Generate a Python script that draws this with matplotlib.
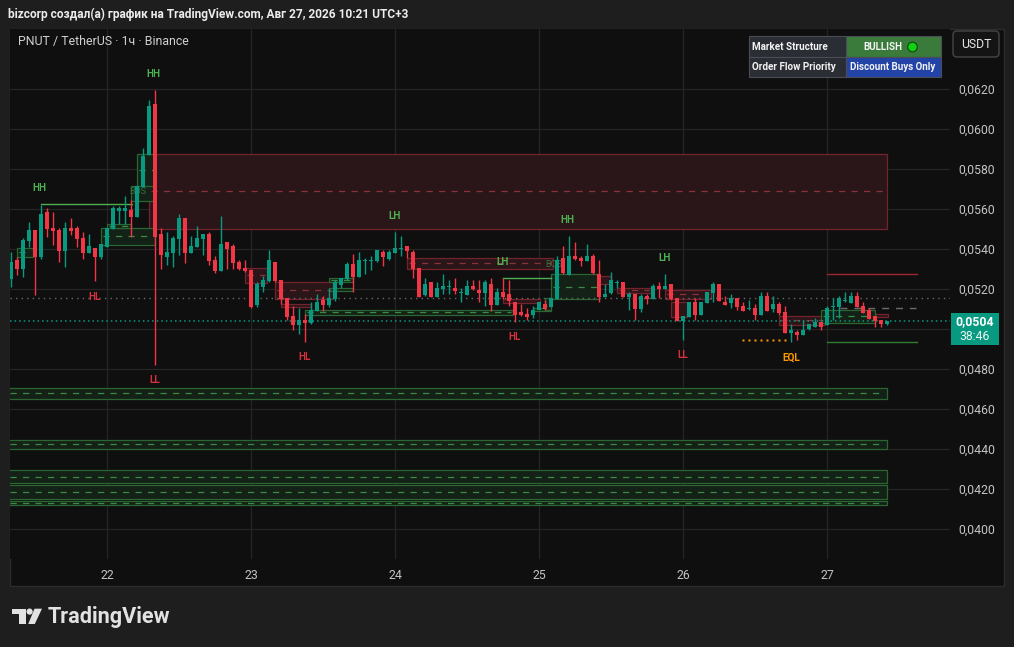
import numpy as np
import matplotlib
matplotlib.use("Agg")
import matplotlib.pyplot as plt
from matplotlib.patches import Rectangle, Polygon, Circle, FancyBboxPatch

# ---------------- data ----------------
# hourly candles, hour offset from 22 Aug 00:00 (UTC+3)
hours = np.arange(-16, 131)

opens = [0.05252, 0.05345, 0.05302, 0.05442, 0.05495, 0.05362, 0.05585, 0.05505, 0.05495, 0.05392,
         0.05505, 0.05505, 0.05455, 0.05382, 0.05405, 0.05362, 0.05412, 0.05502, 0.05592, 0.05592,
         0.05595, 0.05562, 0.05712, 0.05872, 0.06125, 0.05475, 0.05362, 0.05382, 0.05452, 0.05555,
         0.05382, 0.05412, 0.05452, 0.05475, 0.05345, 0.05292, 0.05435, 0.05415, 0.05335, 0.05305,
         0.05295, 0.05122, 0.05212, 0.05238, 0.05335, 0.05245, 0.05155, 0.05065, 0.05022, 0.05045,
         0.05032, 0.05092, 0.05145, 0.05118, 0.05152, 0.05222, 0.05252, 0.05325, 0.05262, 0.05342,
         0.05342, 0.05342, 0.05385, 0.05352, 0.05382, 0.05402, 0.05415, 0.05385, 0.05305, 0.05168,
         0.05235, 0.05162, 0.05202, 0.05212, 0.05205, 0.05182, 0.05172, 0.05215, 0.05195, 0.05182,
         0.05225, 0.05122, 0.05185, 0.05175, 0.05135, 0.05085, 0.05075, 0.05072, 0.05095, 0.05125,
         0.05112, 0.05152, 0.05355, 0.05272, 0.05365, 0.05355, 0.05342, 0.05365, 0.05275, 0.05162,
         0.05182, 0.05232, 0.05235, 0.05162, 0.05175, 0.05102, 0.05165, 0.05152, 0.05215, 0.05202,
         0.05225, 0.05155, 0.05042, 0.05062, 0.05135, 0.05072, 0.05132, 0.05182, 0.05225, 0.05135,
         0.05132, 0.05155, 0.05115, 0.05102, 0.05105, 0.05072, 0.05165, 0.05102, 0.05125, 0.05085,
         0.04982, 0.04985, 0.04972, 0.05002, 0.05012, 0.05035, 0.05022, 0.05112, 0.05112, 0.05142,
         0.05132, 0.05165, 0.05115, 0.05095, 0.05065, 0.05045, 0.05025]
highs = [0.05385, 0.05362, 0.05455, 0.05535, 0.05495, 0.05622, 0.05605, 0.05585, 0.05505, 0.05535,
         0.05555, 0.05515, 0.05485, 0.05475, 0.05405, 0.05425, 0.05505, 0.05615, 0.05615, 0.05665,
         0.05645, 0.05715, 0.05905, 0.06145, 0.06195, 0.05505, 0.05485, 0.05465, 0.05575, 0.05555,
         0.05465, 0.05515, 0.05475, 0.05485, 0.05365, 0.05565, 0.05435, 0.05425, 0.05345, 0.05345,
         0.05302, 0.05235, 0.05265, 0.05395, 0.05335, 0.05245, 0.05155, 0.05115, 0.05105, 0.05075,
         0.05135, 0.05175, 0.05165, 0.05205, 0.05245, 0.05255, 0.05335, 0.05375, 0.05385, 0.05355,
         0.05365, 0.05395, 0.05395, 0.05395, 0.05485, 0.05465, 0.05415, 0.05395, 0.05305, 0.05255,
         0.05235, 0.05235, 0.05275, 0.05245, 0.05255, 0.05205, 0.05245, 0.05245, 0.05245, 0.05245,
         0.05255, 0.05205, 0.05255, 0.05245, 0.05135, 0.05125, 0.05105, 0.05115, 0.05135, 0.05145,
         0.05155, 0.05365, 0.05415, 0.05465, 0.05435, 0.05365, 0.05425, 0.05375, 0.05345, 0.05225,
         0.05285, 0.05245, 0.05235, 0.05185, 0.05175, 0.05175, 0.05175, 0.05225, 0.05235, 0.05275,
         0.05225, 0.05155, 0.05065, 0.05135, 0.05155, 0.05135, 0.05185, 0.05235, 0.05225, 0.05165,
         0.05175, 0.05155, 0.05135, 0.05145, 0.05125, 0.05185, 0.05185, 0.05165, 0.05135, 0.05115,
         0.05025, 0.04995, 0.05045, 0.05025, 0.05055, 0.05035, 0.05115, 0.05155, 0.05165, 0.05185,
         0.05185, 0.05185, 0.05135, 0.05105, 0.05065, 0.05045, 0.05038]
lows = [0.05208, 0.05268, 0.05258, 0.05408, 0.05168, 0.05348, 0.05458, 0.05418, 0.05335, 0.05308,
        0.05468, 0.05408, 0.05348, 0.05382, 0.05238, 0.05348, 0.05408, 0.05502, 0.05525, 0.05525,
        0.05458, 0.05558, 0.05712, 0.05872, 0.04818, 0.05298, 0.05318, 0.05308, 0.05368, 0.05328,
        0.05382, 0.05408, 0.05368, 0.05318, 0.05278, 0.05292, 0.05298, 0.05298, 0.05295, 0.05285,
        0.05105, 0.05108, 0.05185, 0.05235, 0.05235, 0.05125, 0.05045, 0.04995, 0.04975, 0.04935,
        0.05025, 0.05088, 0.05088, 0.05112, 0.05138, 0.05205, 0.05245, 0.05185, 0.05258, 0.05275,
        0.05295, 0.05335, 0.05315, 0.05345, 0.05382, 0.05365, 0.05355, 0.05255, 0.05162, 0.05165,
        0.05162, 0.05158, 0.05175, 0.05175, 0.05175, 0.05135, 0.05168, 0.05195, 0.05135, 0.05115,
        0.05088, 0.05118, 0.05152, 0.05115, 0.05035, 0.05065, 0.05045, 0.05055, 0.05095, 0.05095,
        0.05112, 0.05152, 0.05275, 0.05272, 0.05345, 0.05315, 0.05342, 0.05275, 0.05135, 0.05158,
        0.05175, 0.05205, 0.05162, 0.05095, 0.05045, 0.05085, 0.05125, 0.05148, 0.05155, 0.05202,
        0.05145, 0.05038, 0.04945, 0.05058, 0.05045, 0.05068, 0.05132, 0.05135, 0.05138, 0.05122,
        0.05105, 0.05095, 0.05092, 0.05095, 0.05045, 0.05072, 0.05092, 0.05085, 0.05068, 0.04982,
        0.04935, 0.04945, 0.04972, 0.04995, 0.05008, 0.04995, 0.05022, 0.05045, 0.05055, 0.05135,
        0.05128, 0.05108, 0.05078, 0.05048, 0.05008, 0.05008, 0.05022]
closes = [0.05335, 0.05302, 0.05445, 0.05495, 0.05362, 0.05575, 0.05502, 0.05492, 0.05392, 0.05505,
          0.05492, 0.05452, 0.05382, 0.05415, 0.05362, 0.05425, 0.05505, 0.05605, 0.05605, 0.05605,
          0.05562, 0.05715, 0.05865, 0.06115, 0.05462, 0.05372, 0.05385, 0.05455, 0.05555, 0.05382,
          0.05415, 0.05455, 0.05475, 0.05342, 0.05292, 0.05425, 0.05402, 0.05332, 0.05302, 0.05292,
          0.05112, 0.05225, 0.05245, 0.05345, 0.05242, 0.05152, 0.05062, 0.05022, 0.05045, 0.05032,
          0.05095, 0.05135, 0.05122, 0.05155, 0.05235, 0.05255, 0.05325, 0.05262, 0.05345, 0.05345,
          0.05345, 0.05395, 0.05362, 0.05385, 0.05405, 0.05405, 0.05392, 0.05302, 0.05162, 0.05225,
          0.05162, 0.05205, 0.05215, 0.05215, 0.05192, 0.05185, 0.05215, 0.05202, 0.05182, 0.05235,
          0.05122, 0.05185, 0.05162, 0.05142, 0.05072, 0.05072, 0.05062, 0.05095, 0.05135, 0.05102,
          0.05155, 0.05345, 0.05278, 0.05365, 0.05352, 0.05342, 0.05365, 0.05282, 0.05162, 0.05175,
          0.05245, 0.05235, 0.05162, 0.05175, 0.05102, 0.05165, 0.05152, 0.05215, 0.05202, 0.05215,
          0.05152, 0.05042, 0.05065, 0.05135, 0.05072, 0.05135, 0.05185, 0.05225, 0.05142, 0.05122,
          0.05155, 0.05112, 0.05092, 0.05105, 0.05072, 0.05165, 0.05092, 0.05125, 0.05082, 0.04982,
          0.04995, 0.04972, 0.04995, 0.05025, 0.05035, 0.05012, 0.05105, 0.05115, 0.05155, 0.05145,
          0.05165, 0.05112, 0.05082, 0.05052, 0.05042, 0.05025, 0.05038]

day_ticks = [0, 24, 48, 72, 96, 120]
day_labels = ["22", "23", "24", "25", "26", "27"]
price_ticks = [0.0400, 0.0420, 0.0440, 0.0460, 0.0480, 0.0500, 0.0520, 0.0540, 0.0560, 0.0580, 0.0600, 0.0620]

# zones: (start hour, end hour, top, bottom, dashed midline)
supply_zones = [(7, 130, 0.05875, 0.05502, True),
                (23, 26.6, 0.05305, 0.05232, True),
                (28, 37.7, 0.05235, 0.05152, True),
                (29, 34, 0.05125, 0.05112, False),
                (50, 74.3, 0.05355, 0.05302, True),
                (66, 72.2, 0.05150, 0.05132, False),
                (81, 84, 0.05265, 0.05225, False),
                (85, 90.7, 0.05205, 0.05182, True),
                (93, 100.7, 0.05195, 0.05152, True),
                (94, 96.7, 0.05135, 0.05062, False),
                (112, 119.7, 0.05065, 0.05022, True),
                (126, 130.2, 0.05075, 0.05062, False)]
demand_zones = [(-16.5, 130, 0.04705, 0.04652, True),
                (-16.5, 130, 0.04445, 0.04402, True),
                (-16.5, 130, 0.04295, 0.04229, True),
                (-16.5, 130, 0.04219, 0.04149, True),
                (-16.5, 130, 0.04139, 0.04119, True),
                (-15, -12.3, 0.05405, 0.05362, True),
                (-1, 8, 0.05505, 0.05422, True),
                (0, 4, 0.05525, 0.05505, True),
                (5, 8, 0.05875, 0.05712, True),
                (4, 8, 0.05715, 0.05642, False),
                (37, 41, 0.05255, 0.05235, True),
                (37, 41, 0.05205, 0.05192, False),
                (33, 67.7, 0.05095, 0.05072, True),
                (71, 74, 0.05105, 0.05090, False),
                (73, 74, 0.05155, 0.05095, False),
                (74, 82, 0.05275, 0.05149, True),
                (119, 128, 0.05095, 0.05032, True)]

# structure labels: (hour, price, text, kind)
structure_labels = [(7.8, 0.06275, "HH", "bull"), (-11.2, 0.05705, "HH", "bull"),
                    (-2, 0.05160, "HL", "bear"), (8, 0.04745, "LL", "bear"),
                    (33, 0.04860, "HL", "bear"), (48, 0.05565, "LH", "bull"),
                    (66, 0.05335, "LH", "bull"), (68, 0.04960, "HL", "bear"),
                    (76.8, 0.05545, "HH", "bull"), (93, 0.05355, "LH", "bull"),
                    (96, 0.04870, "LL", "bear"), (114, 0.04855, "EQL", "eql")]

hh_line = (-11, 4.1, 0.05623)
hl_line = (66, 74, 0.05254)
range_high = (120, 135, 0.05274)
range_low = (120, 135, 0.04934)
range_mid = (122.2, 134.8, 0.05104)
eql_hours = [106, 107, 108, 109, 110, 111, 112, 113]
eql_price = 0.04945
prev_level = 0.05155

# ---------------- figure ----------------
W, H = 1014, 647
FONT = ["Roboto", "DejaVu Sans"]
plt.rcParams["font.family"] = FONT
fig = plt.figure(figsize=(W / 100, H / 100), dpi=100)
fig.patch.set_facecolor("#1e1e1e")

BG = "#0f0f0f"
GREEN = "#089981"
RED = "#f23645"

fig.add_artist(Rectangle((10 / W, 1 - 586 / H), 994 / W, 557 / H, transform=fig.transFigure,
                         facecolor=BG, edgecolor="#2c2c2c", lw=1, zorder=-5))

ax = fig.add_axes([10 / W, 1 - 559 / H, 940 / W, 530 / H])
ax.set_facecolor(BG)
for s in ax.spines.values():
    s.set_visible(False)
ax.set_xlim(-16.17, 140.5)
ax.set_ylim(0.0385, 0.0650)

ax.set_xticks(day_ticks)
ax.set_xticklabels(day_labels)
ax.set_yticks(price_ticks)
ax.set_yticklabels(["" if abs(p - 0.05) < 1e-9 else f"{p:.4f}".replace(".", ",") for p in price_ticks])
ax.yaxis.tick_right()
ax.tick_params(axis="both", length=0, colors="#c4c4c4", labelsize=8.8)
ax.tick_params(axis="y", pad=6)
ax.tick_params(axis="x", pad=7)
ax.grid(True, color="#252525", lw=0.9)
ax.set_axisbelow(True)

# zones
def draw_zone(h0, h1, top, bot, mid, fill, edge, dash):
    ax.add_patch(Rectangle((h0, bot), h1 - h0, top - bot, facecolor=fill, edgecolor=edge,
                           lw=0.9, zorder=1))
    if mid:
        ax.plot([h0 + 0.3, h1 - 0.3], [(top + bot) / 2] * 2, color=dash, lw=0.9,
                ls=(0, (5, 5)), zorder=1.1)

for h0, h1, t, b, m in supply_zones:
    draw_zone(h0, h1, t, b, m, "#2a1618", "#72232b", "#8a3239")
for h0, h1, t, b, m in demand_zones:
    draw_zone(h0, h1, t, b, m, "#132116", "#2b6531", "#3c8a44")

# level lines
ax.plot(hh_line[:2], [hh_line[2]] * 2, color="#4caf50", lw=1, zorder=1.5)
ax.plot(hl_line[:2], [hl_line[2]] * 2, color="#4caf50", lw=1, zorder=1.5)
ax.plot(range_high[:2], [range_high[2]] * 2, color="#a0252e", lw=1, zorder=1.5)
ax.plot(range_low[:2], [range_low[2]] * 2, color="#2e7d32", lw=1, zorder=1.5)
ax.plot(range_mid[:2], [range_mid[2]] * 2, color="#6b6b6b", lw=1, ls=(0, (5, 5)), zorder=1.5)
ax.axhline(prev_level, color="#6a6a6a", lw=1, ls=(0, (1, 3)), zorder=1.6)
ax.axhline(closes[-1], color=GREEN, lw=1.1, ls=(0, (1, 2)), zorder=1.6)

# dim BOS marks
ax.text(5.2, 0.05690, "BOS", color="#3c6e40", fontsize=6.5, ha="center", va="center", zorder=1.7)
ax.text(74.5, 0.05325, "BOS", color="#3c6e40", fontsize=6.5, ha="center", va="center", zorder=1.7)

# candles
n = min(len(hours), len(opens), len(highs), len(lows), len(closes))
o = np.array(opens[:n]); h = np.array(highs[:n]); l = np.array(lows[:n]); c = np.array(closes[:n])
x = hours[:n]
cols = np.where(c >= o, GREEN, RED)
ax.vlines(x, l, h, colors=cols, lw=1, zorder=3)
body_bot = np.minimum(o, c)
body_h = np.maximum(np.abs(c - o), 0.00004)
ax.bar(x, body_h, bottom=body_bot, width=0.72, color=cols, lw=0, zorder=3.1)

# EQL dots
ax.plot(eql_hours, [eql_price] * len(eql_hours), ls="none", marker="s", ms=1.6,
        color="#ff9800", mec="none", zorder=3.5)

# labels
lab_col = {"bull": "#4caf50", "bear": "#d6303c", "eql": "#ff9800"}
for hh_, pp, tt, kk in structure_labels:
    ax.text(hh_, pp, tt, color=lab_col[kk], fontsize=7.2, ha="center", va="center",
            fontweight="bold", zorder=4)

# ---------------- overlay (pixel coordinates) ----------------
ov = fig.add_axes([0, 0, 1, 1], zorder=10)
ov.set_xlim(0, W)
ov.set_ylim(H, 0)
ov.axis("off")
ov.patch.set_alpha(0)

ov.text(8, 14, "bizcorp создал(а) график на TradingView.com, Авг 27, 2026 10:21 UTC+3",
        color="#ececec", fontsize=8.6, va="center", ha="left", fontweight="bold")
ov.text(18, 41, "PNUT / TetherUS · 1ч · Binance", color="#cfcfcf", fontsize=8.9,
        va="center", ha="left")

# USDT box
ov.add_patch(FancyBboxPatch((953, 31), 46, 26, boxstyle="round,pad=0,rounding_size=4",
                            facecolor="#141414", edgecolor="#474747", lw=1))
ov.text(976, 44, "USDT", color="#e6e6e6", fontsize=8.8, ha="center", va="center")

# table
ov.add_patch(Rectangle((749, 36), 97, 20.5, facecolor="#2a2d33", edgecolor="#4a4d55", lw=0.8))
ov.add_patch(Rectangle((749, 56.5), 97, 20, facecolor="#2a2d33", edgecolor="#4a4d55", lw=0.8))
ov.add_patch(Rectangle((846, 36), 94.5, 20.5, facecolor="#3a7a3a", edgecolor="#4a4d55", lw=0.8))
ov.add_patch(Rectangle((846, 56.5), 94.5, 20, facecolor="#2243a8", edgecolor="#4a4d55", lw=0.8))
ov.text(752.5, 46.5, "Market Structure", color="#f2f2f2", fontsize=7.1, va="center", fontweight="bold")
ov.text(752.5, 66.5, "Order Flow Priority", color="#f2f2f2", fontsize=7.1, va="center", fontweight="bold")
ov.text(883, 46.5, "BULLISH", color="#f2f2f2", fontsize=7.1, va="center", ha="center", fontweight="bold")
ov.add_patch(Circle((912.5, 47), 4.8, facecolor="#12d012", edgecolor="#0a4a0a", lw=0.8))
ov.text(893, 66.5, "Discount Buys Only", color="#f2f2f2", fontsize=7.0, va="center", ha="center",
        fontweight="bold")

# current price box
yd = H - ax.transData.transform((0, closes[-1]))[1]
ov.add_patch(Rectangle((951, yd - 8), 48, 32, facecolor=GREEN, edgecolor="none"))
ov.text(975, yd + 0.5, f"{closes[-1]:.4f}".replace(".", ","), color="white", fontsize=8.8,
        ha="center", va="center", fontweight="bold")
ov.text(975, yd + 15.5, "38:46", color="#e8f5f2", fontsize=8.8, ha="center", va="center")

# TradingView logo
ov.add_patch(Polygon([(12, 608.7), (25.5, 608.7), (25.5, 624), (19.3, 624), (19.3, 613.5), (12, 613.5)],
                     closed=True, facecolor="#e2e2e2", edgecolor="none"))
ov.add_patch(Circle((29.6, 611.6), 3.1, facecolor="#e2e2e2", edgecolor="none"))
ov.add_patch(Polygon([(34.5, 608.7), (42, 608.7), (34.8, 624), (28.2, 624)], closed=True,
                     facecolor="#e2e2e2", edgecolor="none"))
ov.text(48, 616.5, "TradingView", color="#e2e2e2", fontsize=15.6, va="center", ha="left",
        fontweight="bold")

fig.savefig("out.png", dpi=100, facecolor=fig.get_facecolor())
